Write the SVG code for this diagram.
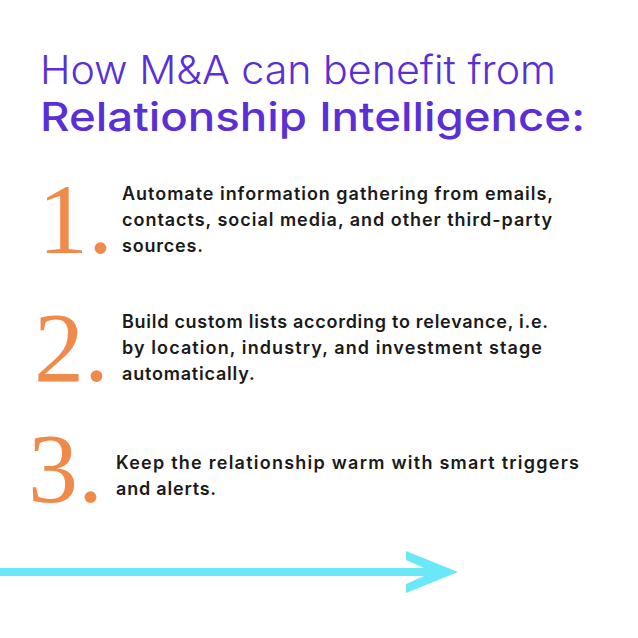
<svg xmlns="http://www.w3.org/2000/svg" width="638" height="638" viewBox="0 0 638 638">
<style>
.t{font-family:"Inter","Liberation Sans",sans-serif;font-size:18px;font-weight:600;fill:#1a1a1a}
.s{letter-spacing:0.8px}
.n{font-family:"Liberation Serif",serif;fill:#f08a4b}
.h{font-family:"Inter","Liberation Sans",sans-serif;fill:#5a2fd6}
</style>
<rect width="638" height="638" fill="#fff"/>
<g id="title">
<text class="h" x="40" y="84" font-size="39" font-weight="300" textLength="516" lengthAdjust="spacingAndGlyphs">How M&amp;A can benefit from</text>
<text class="h" x="40" y="131" font-size="40" font-weight="500" fill="#4a1fd0" textLength="545" lengthAdjust="spacingAndGlyphs">Relationship Intelligence:</text>
</g>
<g id="item1">
<text class="n" x="38" y="253" font-size="100">1.</text>
<text class="t" x="122" y="200" textLength="431">Automate information gathering from emails,</text>
<text class="t" x="122" y="226" textLength="430">contacts, social media, and other third-party</text>
<text class="t s" x="122" y="252">sources.</text>
</g>
<g id="item2">
<text class="n" x="34" y="381" font-size="100">2.</text>
<text class="t" x="122" y="328" textLength="426">Build custom lists according to relevance, i.e.</text>
<text class="t" x="122" y="354" textLength="420">by location, industry, and investment stage</text>
<text class="t s" x="122" y="380">automatically.</text>
</g>
<g id="item3">
<text class="n" x="28" y="502" font-size="100">3.</text>
<text class="t" x="116" y="469" textLength="463">Keep the relationship warm with smart triggers</text>
<text class="t s" x="116" y="495">and alerts.</text>
</g>
<g id="connectors">
<rect x="0" y="568" width="435" height="8" fill="#6ae8f8"/>
<polygon points="406,551 458,572 406,593 406,584 433,572 406,560" fill="#6ae8f8"/>
</g>
</svg>
